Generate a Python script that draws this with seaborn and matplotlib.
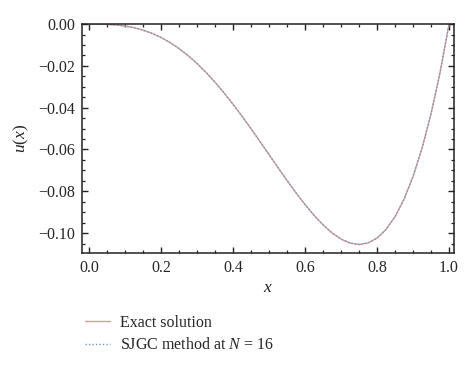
import numpy as np
import pandas as pd
import matplotlib
matplotlib.use('Agg')
import matplotlib.pyplot as plt
import seaborn as sns
from matplotlib.ticker import MultipleLocator, FuncFormatter

# values
x_vals = [0.0, 0.025, 0.05, 0.075, 0.1, 0.125, 0.15, 0.175, 0.2, 0.225,
          0.25, 0.275, 0.3, 0.325, 0.35, 0.375, 0.4, 0.425, 0.45, 0.475,
          0.5, 0.525, 0.55, 0.575, 0.6, 0.625, 0.65, 0.675, 0.7, 0.725,
          0.75, 0.775, 0.8, 0.825, 0.85, 0.875, 0.9, 0.925, 0.95, 0.975, 1.0]
exact_vals = [0.0, -0.000015, -0.000119, -0.00039, -0.0009, -0.001709, -0.002869,
              -0.004421, -0.0064, -0.008828, -0.011719, -0.015078, -0.0189,
              -0.023171, -0.027869, -0.032959, -0.0384, -0.04414, -0.050119,
              -0.056265, -0.0625, -0.068734, -0.074869, -0.080796, -0.0864,
              -0.091553, -0.096119, -0.099953, -0.1029, -0.104796, -0.105469,
              -0.104734, -0.1024, -0.098265, -0.092119, -0.08374, -0.0729,
              -0.059359, -0.042869, -0.023171, 0.0]
sjgc_vals = [0.0, -0.000015, -0.000119, -0.00039, -0.0009, -0.001709, -0.002869,
             -0.004421, -0.0064, -0.008828, -0.011719, -0.015078, -0.0189,
             -0.023171, -0.027869, -0.032959, -0.0384, -0.04414, -0.050119,
             -0.056265, -0.0625, -0.068734, -0.074869, -0.080796, -0.0864,
             -0.091553, -0.096119, -0.099953, -0.1029, -0.104796, -0.105469,
             -0.104734, -0.1024, -0.098265, -0.092119, -0.08374, -0.0729,
             -0.059359, -0.042869, -0.023171, 0.0]

df = pd.DataFrame({'x': x_vals, 'exact': exact_vals, 'sjgc': sjgc_vals})

sns.set_style('ticks')
plt.rcParams['font.family'] = ['Liberation Serif', 'DejaVu Serif']
plt.rcParams['mathtext.fontset'] = 'custom'
plt.rcParams['mathtext.rm'] = 'Liberation Serif'
plt.rcParams['mathtext.it'] = 'Liberation Serif:italic'


def fmt(decimals):
    def f(v, pos):
        s = f'{v:.{decimals}f}'
        if s.startswith('-') and float(s) == 0:
            s = s[1:]
        return s.replace('-', '\u2212')
    return FuncFormatter(f)


fig = plt.figure(figsize=(4.74, 3.66), dpi=100)
ax = fig.add_axes([0.173, 0.309, 0.785, 0.625])

sns.lineplot(data=df, x='x', y='exact', ax=ax, color='#d99a9a', lw=1.0,
             label='Exact solution', sort=False, estimator=None)
sns.lineplot(data=df, x='x', y='sjgc', ax=ax, color='#6f9bb8', lw=1.0,
             linestyle=(0, (1, 1.5)), label='SJGC method at $N$ = 16',
             sort=False, estimator=None)

ax.set_xlim(-0.02, 1.014)
ax.set_ylim(-0.1095, 0.0)
ax.xaxis.set_major_locator(MultipleLocator(0.2))
ax.xaxis.set_minor_locator(MultipleLocator(0.05))
ax.yaxis.set_major_locator(MultipleLocator(0.02))
ax.yaxis.set_minor_locator(MultipleLocator(0.005))
ax.xaxis.set_major_formatter(fmt(1))
ax.yaxis.set_major_formatter(fmt(2))
ax.tick_params(which='both', direction='in', top=True, right=True, color='#222222')
ax.tick_params(which='major', length=4, width=1.0, labelsize=11.5, pad=5)
ax.tick_params(which='minor', length=2.3, width=0.9)
for s in ax.spines.values():
    s.set_linewidth(1.1)
    s.set_color('#222222')

ax.set_xlabel('$x$', fontsize=12.5, labelpad=3)
ax.set_ylabel('$u(x)$', fontsize=12.5, labelpad=5)

handles, labels = ax.get_legend_handles_labels()
ax.get_legend().remove()
fig.legend(handles, labels, loc='upper left', bbox_to_anchor=(0.165, 0.157),
           frameon=False, handlelength=1.6, fontsize=11.5, labelspacing=0.4,
           handletextpad=0.6, borderaxespad=0)

fig.savefig('out.png', dpi=100)
